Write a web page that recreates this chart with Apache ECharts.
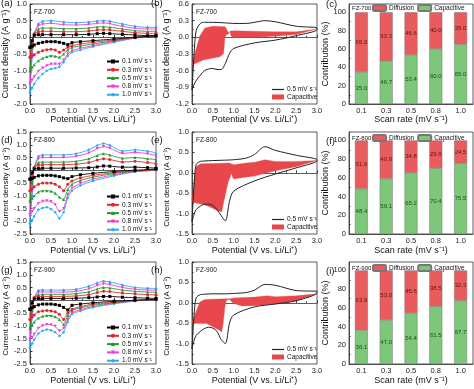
<!DOCTYPE html>
<html><head><meta charset="utf-8">
<script src="https://cdn.jsdelivr.net/npm/echarts@6/dist/echarts.min.js"></script>
<style>html,body{margin:0;padding:0;background:#fff}#c{width:474px;height:389px}</style>
</head><body><div id="c"></div>
<script>
// ---------- DATA ----------
const rateNames = ['0.1 mV s⁻¹','0.3 mV s⁻¹','0.5 mV s⁻¹','0.8 mV s⁻¹','1.0 mV s⁻¹'];
const scanRates = ['0.1','0.3','0.5','0.8','1.0'];
// potentials for multi-rate CVs
const potUp   = [0,0.05,0.1,0.2,0.3,0.5,0.8,1.1,1.4,1.6,1.75,1.9,2.2,2.5,2.8,3.0];
const potDown = [3.0,2.5,2.0,1.5,1.2,1.0,0.9,0.8,0.7,0.6,0.5,0.4,0.3,0.2,0.1,0.05,0];

// FZ-700 (a)
const fz700Anodic = [
  [-0.3,-0.1,0.06,0.08,0.08,0.08,0.08,0.08,0.09,0.11,0.12,0.11,0.09,0.07,0.05,0.05],
  [-0.6,-0.2,0.1,0.17,0.18,0.18,0.17,0.17,0.19,0.22,0.23,0.22,0.18,0.14,0.12,0.12],
  [-1.0,-0.3,0.1,0.25,0.28,0.28,0.26,0.26,0.28,0.31,0.32,0.3,0.25,0.2,0.18,0.18],
  [-1.4,-0.5,0.1,0.35,0.4,0.42,0.38,0.37,0.39,0.42,0.43,0.41,0.33,0.27,0.25,0.25],
  [-1.65,-0.6,0.1,0.4,0.48,0.5,0.46,0.44,0.46,0.49,0.5,0.48,0.4,0.33,0.3,0.3]
];
const fz700Cathodic = [
  [0.04,0.0,-0.05,-0.1,-0.13,-0.16,-0.22,-0.18,-0.15,-0.13,-0.13,-0.13,-0.15,-0.18,-0.23,-0.27,-0.3],
  [0.05,0.0,-0.08,-0.15,-0.2,-0.25,-0.3,-0.38,-0.45,-0.38,-0.36,-0.37,-0.4,-0.45,-0.52,-0.56,-0.6],
  [0.06,0.0,-0.1,-0.2,-0.26,-0.3,-0.38,-0.5,-0.6,-0.57,-0.55,-0.58,-0.63,-0.7,-0.82,-0.9,-1.0],
  [0.07,-0.02,-0.12,-0.25,-0.33,-0.4,-0.5,-0.68,-0.8,-0.8,-0.8,-0.85,-0.92,-1.02,-1.18,-1.28,-1.4],
  [0.08,-0.02,-0.15,-0.28,-0.38,-0.45,-0.56,-0.75,-0.88,-0.93,-0.95,-1.0,-1.1,-1.22,-1.4,-1.52,-1.65]
];
// FZ-800 (d)
const fz800Anodic = [
  [-0.35,-0.1,0.05,0.07,0.08,0.08,0.08,0.09,0.1,0.13,0.17,0.16,0.12,0.12,0.1,0.08],
  [-0.8,-0.3,0.1,0.2,0.22,0.22,0.22,0.24,0.3,0.4,0.45,0.42,0.32,0.35,0.3,0.25],
  [-1.2,-0.5,0.1,0.3,0.32,0.32,0.32,0.35,0.45,0.58,0.65,0.6,0.47,0.5,0.45,0.4],
  [-1.75,-0.8,0.1,0.45,0.5,0.5,0.5,0.55,0.68,0.85,0.93,0.87,0.66,0.7,0.65,0.55],
  [-2.1,-1.0,0.1,0.55,0.6,0.6,0.6,0.65,0.8,0.97,1.05,0.98,0.75,0.8,0.75,0.65]
];
const fz800Cathodic = [
  [0.05,0.0,-0.05,-0.12,-0.18,-0.25,-0.33,-0.3,-0.25,-0.22,-0.2,-0.2,-0.2,-0.22,-0.28,-0.32,-0.35],
  [0.05,-0.02,-0.1,-0.2,-0.3,-0.42,-0.55,-0.8,-0.65,-0.55,-0.5,-0.5,-0.5,-0.55,-0.65,-0.72,-0.8],
  [0.05,-0.03,-0.13,-0.27,-0.4,-0.55,-0.75,-1.15,-1.05,-0.9,-0.82,-0.8,-0.8,-0.85,-1.0,-1.1,-1.2],
  [0.05,-0.05,-0.18,-0.35,-0.52,-0.7,-0.95,-1.5,-1.62,-1.35,-1.23,-1.2,-1.22,-1.3,-1.5,-1.62,-1.75],
  [0.05,-0.06,-0.22,-0.42,-0.6,-0.8,-1.08,-1.65,-1.88,-1.65,-1.52,-1.45,-1.48,-1.55,-1.8,-1.95,-2.1]
];
// FZ-900 (g)
const fz900Anodic = [
  [-0.35,-0.1,0.05,0.07,0.07,0.07,0.07,0.08,0.1,0.13,0.15,0.15,0.12,0.1,0.08,0.07],
  [-0.75,-0.3,0.1,0.15,0.15,0.15,0.15,0.17,0.22,0.3,0.35,0.34,0.28,0.25,0.22,0.2],
  [-1.1,-0.4,0.1,0.22,0.23,0.23,0.23,0.26,0.33,0.44,0.5,0.48,0.4,0.35,0.32,0.3],
  [-1.55,-0.6,0.1,0.3,0.32,0.32,0.32,0.35,0.45,0.58,0.65,0.62,0.5,0.43,0.4,0.38],
  [-1.85,-0.7,0.1,0.38,0.4,0.4,0.4,0.43,0.55,0.68,0.75,0.72,0.6,0.5,0.47,0.45]
];
const fz900Cathodic = [
  [0.04,0.0,-0.04,-0.1,-0.15,-0.2,-0.38,-0.28,-0.2,-0.17,-0.15,-0.15,-0.15,-0.18,-0.25,-0.3,-0.35],
  [0.05,0.0,-0.08,-0.15,-0.25,-0.35,-0.5,-0.75,-0.55,-0.45,-0.42,-0.4,-0.42,-0.45,-0.58,-0.65,-0.75],
  [0.05,-0.01,-0.1,-0.2,-0.3,-0.4,-0.6,-0.95,-0.75,-0.65,-0.6,-0.6,-0.63,-0.7,-0.85,-0.97,-1.1],
  [0.06,-0.02,-0.12,-0.25,-0.37,-0.5,-0.75,-1.1,-1.2,-1.02,-0.96,-0.95,-1.0,-1.1,-1.33,-1.45,-1.55],
  [0.07,-0.03,-0.14,-0.28,-0.42,-0.55,-0.85,-1.25,-1.4,-1.25,-1.18,-1.15,-1.2,-1.3,-1.55,-1.7,-1.85]
];

// single CV at 0.5 mV/s (b, e, h)
const cvPotUp   = [0,0.05,0.1,0.2,0.3,0.5,0.8,1.0,1.3,1.5,1.75,2.0,2.5,3.0];
const cvPotDown = [3.0,2.5,2.0,1.5,1.0,0.9,0.8,0.7,0.6,0.5,0.4,0.3,0.2,0.1,0.05,0];
const fz700CvUp   = [-0.95,-0.3,0.12,0.25,0.27,0.27,0.26,0.25,0.25,0.27,0.3,0.28,0.2,0.17];
const fz700CvDown = [0.14,0.03,-0.05,-0.1,-0.2,-0.29,-0.47,-0.58,-0.58,-0.56,-0.57,-0.6,-0.68,-0.78,-0.85,-0.95];
const fz800CvUp   = [-1.2,-0.3,0.2,0.28,0.29,0.3,0.31,0.32,0.36,0.45,0.64,0.55,0.43,0.32];
const fz800CvDown = [0.3,0.12,-0.03,-0.2,-0.45,-0.7,-1.18,-1.05,-0.9,-0.8,-0.77,-0.77,-0.82,-0.9,-1.02,-1.2];
const fz900CvUp   = [-1.12,-0.3,0.12,0.2,0.21,0.22,0.22,0.23,0.25,0.31,0.45,0.43,0.3,0.28];
const fz900CvDown = [0.25,0.05,-0.03,-0.1,-0.3,-0.5,-1.0,-0.9,-0.7,-0.62,-0.6,-0.63,-0.7,-0.8,-0.92,-1.12];

// capacitive regions (outline, anodic edge then cathodic edge)
const cap700X = [0,0.1,0.19,0.31,0.5,0.8,0.85,0.88,0.91,1.0,1.5,2.0,2.5,3.0,2.5,2.0,1.5,1.0,0.94,0.91,0.88,0.83,0.79,0.76,0.67,0.27,0];
const cap700Y = [-0.5,-0.2,0.03,0.17,0.2,0.19,0.12,0.08,0.11,0.12,0.11,0.1,0.1,0.15,0.05,0.02,0.0,0.0,0.02,0.11,0.06,0.05,0.0,-0.29,-0.35,-0.41,-0.5];
const cap800X = [0,0.05,0.1,0.2,0.5,0.9,1.0,1.3,1.5,1.75,2.0,2.5,3.0,2.5,2.0,1.5,1.2,1.0,0.97,0.95,0.92,0.87,0.79,0.71,0.59,0.35,0.15,0];
const cap800Y = [-0.72,-0.2,0.15,0.22,0.23,0.24,0.2,0.24,0.26,0.32,0.28,0.28,0.3,0.15,0.05,-0.08,-0.12,-0.15,-0.1,0.02,-0.1,-0.22,-0.59,-0.96,-0.92,-0.8,-0.75,-0.72];
const cap900X = [0,0.1,0.19,0.3,0.8,0.88,0.92,1.0,1.5,1.8,2.0,2.5,3.0,2.5,2.0,1.5,1.2,1.0,0.92,0.88,0.82,0.79,0.75,0.71,0.67,0.35,0];
const cap900Y = [-0.5,-0.2,0.02,0.08,0.1,0.1,0.1,0.12,0.14,0.17,0.15,0.17,0.22,0.05,-0.03,-0.07,-0.08,-0.02,0.06,0.09,0.05,-0.1,-0.5,-0.72,-0.68,-0.51,-0.5];

// contributions (%)
const cap700Pct = [35.0,46.7,53.4,60.0,65.0];
const dif700Pct = [65.0,53.3,46.6,40.0,35.0];
const cap800Pct = [48.4,59.1,65.2,70.4,75.5];
const dif800Pct = [51.6,40.9,34.8,29.6,24.5];
const cap900Pct = [36.1,47.0,54.4,61.5,67.7];
const dif900Pct = [63.9,53.0,45.6,38.5,32.3];

// ---------- LAYOUT / STYLE ----------
const FONT = 'Liberation Sans, Arial, sans-serif';
const rateColors = ['#000000','#e3262b','#1f9a2f','#f03bd0','#2aa8f0'];
const rateSymbols = ['rect','circle','triangle','triangle','diamond'];
const rateRot = [0,0,0,180,0];
const cols = [{left:30,width:126},{left:192,width:125},{left:349,width:124}];
const rows = [{top:4,height:100},{top:132,height:102},{top:262,height:102}];
const xNameGap = [9,12,12];
const yNameFont = [9,8,8];
const yNamePad = [[0,0,0,0],[0,8,0,0],[0,6,0,0]];
const RED = '#e8484c', BAR_RED = '#ea5b5d', BAR_GREEN = '#7dc77b';
const BLACK_NAME = '0.5 mV s⁻¹\u2009';
const CAP_NAME = 'Capacitive\u2009';

const grid = [], xAxis = [], yAxis = [], series = [], legend = [], graphic = [];
for (let r=0;r<3;r++) for (let c=0;c<3;c++) {
  grid.push({left:cols[c].left, width:cols[c].width, top:rows[r].top, height:rows[r].height,
    show:true, borderColor:'#333', borderWidth:0.8, backgroundColor:'transparent'});
}
const axisLineS = {show:true, lineStyle:{color:'#333', width:0.8}};
const lblS = {fontSize:7.5, color:'#222', fontFamily:FONT};
const nameS = {fontSize:9, color:'#111', fontFamily:FONT};
function cvX(gi, r) {
  return {gridIndex:gi, type:'value', min:0, max:3, interval:0.5,
    name:'Potential (V vs. Li/Li⁺)', nameLocation:'middle', nameGap:xNameGap[r], nameTextStyle:nameS,
    axisLine:axisLineS, axisTick:{inside:true, length:2.5, lineStyle:{color:'#333'}},
    minorTick:{show:true, splitNumber:2, length:1.5, lineStyle:{color:'#333'}},
    splitLine:{show:false}, axisLabel:Object.assign({margin:2.5, formatter:v=>v.toFixed(1)}, lblS)};
}
function cvY(gi, r, min, max, interval, gap) {
  return {gridIndex:gi, type:'value', min, max, interval,
    name:'Current density (A g⁻¹)', nameLocation:'middle', nameGap:gap,
    nameTextStyle:Object.assign({}, nameS, {fontSize:yNameFont[r], padding:yNamePad[r]}),
    axisLine:axisLineS, axisTick:{inside:true, length:2.5, lineStyle:{color:'#333'}},
    minorTick:{show:true, splitNumber:2, length:1.5, lineStyle:{color:'#333'}},
    splitLine:{show:false}, axisLabel:Object.assign({margin:3, formatter:v=>(Math.abs(v)<1e-9?0:v).toFixed(1)}, lblS)};
}
function barX(gi, r) {
  return {gridIndex:gi, type:'category', data:scanRates,
    name:'Scan rate (mV s⁻¹)', nameLocation:'middle', nameGap:xNameGap[r], nameTextStyle:nameS,
    axisLine:axisLineS, axisTick:{inside:true, alignWithLabel:true, length:2.5, lineStyle:{color:'#333'}},
    axisLabel:Object.assign({margin:2.5}, lblS)};
}
function barY(gi) {
  return {gridIndex:gi, type:'value', min:0, max:109, interval:20,
    name:'Contribution (%)', nameLocation:'middle', nameGap:16, nameTextStyle:nameS,
    axisLine:axisLineS, axisTick:{inside:true, length:2.5, lineStyle:{color:'#333'}},
    minorTick:{show:true, splitNumber:2, length:1.5, lineStyle:{color:'#333'}},
    splitLine:{show:false}, axisLabel:Object.assign({margin:3, showMaxLabel:false, formatter:v=>v<=100?String(v):''}, lblS)};
}
function loop(ux, uy, dx, dy) {
  const pts = [];
  ux.forEach((x,i)=>pts.push([x,uy[i]]));
  dx.forEach((x,i)=>pts.push([x,dy[i]]));
  return pts;
}

const cvSets = [
  {an:fz700Anodic, ca:fz700Cathodic, ymin:-2, ymax:1, name:'FZ-700'},
  {an:fz800Anodic, ca:fz800Cathodic, ymin:-2.5, ymax:1.5, name:'FZ-800'},
  {an:fz900Anodic, ca:fz900Cathodic, ymin:-2.5, ymax:1.5, name:'FZ-900'}
];
const singles = [
  {up:fz700CvUp, down:fz700CvDown, cx:cap700X, cy:cap700Y, ymin:-1.2, ymax:0.6, iv:0.3},
  {up:fz800CvUp, down:fz800CvDown, cx:cap800X, cy:cap800Y, ymin:-1.5, ymax:1.0, iv:0.5},
  {up:fz900CvUp, down:fz900CvDown, cx:cap900X, cy:cap900Y, ymin:-1.5, ymax:1.0, iv:0.5}
];
const bars = [
  {cap:cap700Pct, dif:dif700Pct},
  {cap:cap800Pct, dif:dif800Pct},
  {cap:cap900Pct, dif:dif900Pct}
];
const letters = [['(a)','(b)','(c)'],['(d)','(e)','(f)'],['(g)','(h)','(i)']];
const letterTop = [-1.5, 135, 265];
const legendRowTop = [58, 193, 324];
const legendBTop = [86, 216, 346];

for (let r=0;r<3;r++) {
  const giA = r*3, giB = r*3+1, giC = r*3+2;
  const set = cvSets[r], sg = singles[r], br = bars[r];
  const top = rows[r].top;
  xAxis.push(cvX(giA, r)); yAxis.push(cvY(giA, r, set.ymin, set.ymax, 0.5, 17));
  xAxis.push(cvX(giB, r)); yAxis.push(cvY(giB, r, sg.ymin, sg.ymax, sg.iv, 21));
  xAxis.push(barX(giC, r)); yAxis.push(barY(giC));

  for (let k=0;k<5;k++) {
    series.push({type:'line', name:rateNames[k], xAxisIndex:giA, yAxisIndex:giA,
      data:loop(potUp, set.an[k], potDown, set.ca[k]), smooth:0.2,
      symbol:rateSymbols[k], symbolRotate:rateRot[k], symbolSize:3, showSymbol:true, showAllSymbol:true,
      lineStyle:{width:0.9, color:rateColors[k]}, itemStyle:{color:rateColors[k]}, z:10-k});
  }
  const poly = sg.cx.map((x,i)=>[x, sg.cy[i]]);
  series.push({type:'custom', name:CAP_NAME, xAxisIndex:giB, yAxisIndex:giB, data:poly,
    itemStyle:{color:RED}, z:2,
    renderItem:(params, api)=>{
      if (params.dataIndex !== 0) return null;
      const pts = poly.map(p=>api.coord(p));
      return {type:'polygon', shape:{points:pts}, style:{fill:RED, stroke:RED, lineWidth:0.3}};
    }});
  series.push({type:'line', name:BLACK_NAME, xAxisIndex:giB, yAxisIndex:giB,
    data:loop(cvPotUp, sg.up, cvPotDown, sg.down), smooth:0.3, symbol:'none',
    lineStyle:{width:1, color:'#222'}, itemStyle:{color:'#222'}, z:5});
  series.push({type:'bar', name:'Capacitive', xAxisIndex:giC, yAxisIndex:giC, stack:'s'+r, data:br.cap,
    barWidth:13, itemStyle:{color:BAR_GREEN, borderColor:'#777', borderWidth:0.5},
    label:{show:true, position:'inside', fontSize:6, color:'#1c4d1c', fontFamily:FONT, formatter:p=>p.value.toFixed(1)}});
  series.push({type:'bar', name:'Diffusion', xAxisIndex:giC, yAxisIndex:giC, stack:'s'+r, data:br.dif,
    barWidth:13, itemStyle:{color:BAR_RED, borderColor:'#777', borderWidth:0.5},
    label:{show:true, position:'inside', fontSize:6, color:'#5c1414', fontFamily:FONT, formatter:p=>p.value.toFixed(1)}});

  const lgText = {fontSize:6.5, lineHeight:6, color:'#111', fontFamily:FONT, padding:[0,0,0,-2]};
  legend.push({id:'lgA'+r, orient:'vertical', left:106, top:legendRowTop[r], itemWidth:12, itemHeight:5, itemGap:1.3,
    padding:0, textStyle:lgText, data:rateNames.slice(), selectedMode:false});
  legend.push({id:'lgB'+r, orient:'vertical', left:272, top:legendBTop[r], itemWidth:12, itemHeight:1.2,
    padding:0, textStyle:lgText, selectedMode:false,
    data:[{name:BLACK_NAME, icon:'rect', itemStyle:{color:'#222'}}]});
  legend.push({id:'lgB2'+r, orient:'vertical', left:272, top:legendBTop[r]+7.5, itemWidth:12, itemHeight:5,
    padding:0, textStyle:lgText, selectedMode:false,
    data:[{name:CAP_NAME, icon:'rect', itemStyle:{color:RED}}]});
  legend.push({id:'lgC'+r, orient:'horizontal', left:372, top:top + (r===0?0:2), itemWidth:13, itemHeight:6, itemGap:3,
    padding:0, textStyle:lgText, selectedMode:false,
    data:['Diffusion','Capacitive']});

  const lt = letterTop[r];
  graphic.push({type:'text', left:1, top:lt, style:{text:letters[r][0], fontSize:9.5, fill:'#111', fontFamily:FONT}});
  graphic.push({type:'text', left:151, top:lt, style:{text:letters[r][1], fontSize:9.5, fill:'#111', fontFamily:FONT}});
  graphic.push({type:'text', left:326, top:lt+1, style:{text:letters[r][2], fontSize:9.5, fill:'#111', fontFamily:FONT}});
  graphic.push({type:'text', left:34, top:top+5, style:{text:set.name, fontSize:6.5, fill:'#111', fontFamily:FONT}});
  graphic.push({type:'text', left:196, top:top+5, style:{text:set.name, fontSize:6.5, fill:'#111', fontFamily:FONT}});
  graphic.push({type:'text', left:352, top:top+(r===0?1:3), style:{text:set.name, fontSize:6, fill:'#111', fontFamily:FONT}});
}

const chart = echarts.init(document.getElementById('c'), null, {renderer:'canvas'});
chart.setOption({animation:false, backgroundColor:'#fff', textStyle:{fontFamily:FONT},
  grid, xAxis, yAxis, series, legend, graphic});
</script></body></html>
